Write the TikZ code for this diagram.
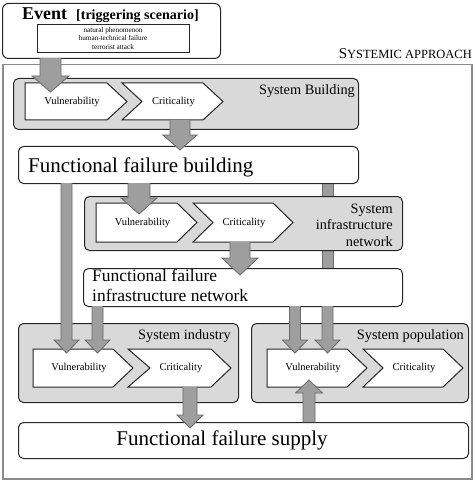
\documentclass[tikz,border=0pt]{standalone}
\usepackage{fontspec}
\setmainfont{Liberation Serif}
\usetikzlibrary{calc}
\definecolor{boxgray}{RGB}{217,217,217}
\definecolor{arrgray}{RGB}{158,158,158}
\definecolor{arredge}{RGB}{105,105,105}
\definecolor{framegray}{RGB}{140,140,140}
\tikzset{
  x=1pt, y=-1pt,
  boxw/.style={draw=black!85, line width=1pt, rounded corners=5pt, fill=white, inner sep=0pt},
  boxg/.style={draw=black!85, line width=1pt, rounded corners=5pt, fill=boxgray, inner sep=0pt},
  chevshape/.style={draw=black!85, line width=1pt, fill=white, line join=miter},
  chevtext/.style={inner sep=0pt, font=\fontsize{10.5}{12}\selectfont},
  syslbl/.style={inner sep=0pt, font=\fontsize{14.3}{16.5}\selectfont, align=right},
  bigl/.style={inner sep=0pt, font=\fontsize{21}{24}\selectfont},
  midl/.style={inner sep=0pt, font=\fontsize{17.5}{20}\selectfont, align=left},
  arrfill/.style={fill=arrgray},
  arrline/.style={draw=arredge, line width=0.8pt, line join=miter},
}
% box node: style, x1, y1, x2, y2, name
\newcommand\boxat[6]{\node[#1, anchor=north west, minimum width={(#4-#2)*1pt}, minimum height={(#5-#3)*1pt}] (#6) at (#2,#3) {};}
% chevron: name, xleft, xtip, ytop, ybot, notch depth, text
\newcommand\chev[7]{%
  \draw[chevshape] (#2,#4) -- ({#3-20},#4) -- (#3,{(#4+#5)/2}) -- ({#3-20},#5) -- (#2,#5) -- ({#2+#6},{(#4+#5)/2}) -- cycle;
  \node[chevtext] (#1) at ({(#2+#3)/2+#6/4-4},{(#4+#5)/2}) {#7};}
% block arrow: tail coord, tip coord, half shaft, half head, head length
\newcommand\barrow[5]{%
  \fill[arrfill] let \p1=(#1), \p2=(#2), \n1={(\y2-\y1)/abs(\y2-\y1)} in
    ({\x1-#3pt},\y1) -- ({\x1-#3pt},{\y2-(\n1)*#5pt}) -- ({\x1-#4pt},{\y2-(\n1)*#5pt}) -- (\x1,\y2)
    -- ({\x1+#4pt},{\y2-(\n1)*#5pt}) -- ({\x1+#3pt},{\y2-(\n1)*#5pt}) -- ({\x1+#3pt},\y1) -- cycle;
  \draw[arrline] let \p1=(#1), \p2=(#2), \n1={(\y2-\y1)/abs(\y2-\y1)} in
    ({\x1-#3pt},\y1) -- ({\x1-#3pt},{\y2-(\n1)*#5pt}) -- ({\x1-#4pt},{\y2-(\n1)*#5pt}) -- (\x1,\y2)
    -- ({\x1+#4pt},{\y2-(\n1)*#5pt}) -- ({\x1+#3pt},{\y2-(\n1)*#5pt}) -- ({\x1+#3pt},\y1);}
% plain shaft (no head): from, to, half width
\newcommand\bshaft[3]{%
  \fill[arrfill] let \p1=(#1), \p2=(#2) in ({\x1-#3pt},\y1) rectangle ({\x1+#3pt},\y2);
  \draw[arrline] let \p1=(#1), \p2=(#2) in ({\x1-#3pt},\y1) -- ({\x1-#3pt},\y2) ({\x1+#3pt},\y1) -- ({\x1+#3pt},\y2);}
\begin{document}
\begin{tikzpicture}
\useasboundingbox (0,0) rectangle (474,481);
% outer frame
\draw[framegray, line width=1.6pt] (3,64.5) rectangle (472,479);
\node[inner sep=0pt, anchor=base east] (sysapp) at (472,59)
  {{\fontsize{15}{16}\selectfont S}{\fontsize{12.5}{14}\selectfont YSTEMIC APPROACH}};

% coordinates for connectors
\coordinate (e1t) at (50.5,58);   \coordinate (e1h) at (50.5,92);
\coordinate (a2t) at (180,120);   \coordinate (a2h) at (180,150);
\coordinate (a3t) at (139,183);   \coordinate (a3h) at (139,214);
\coordinate (a4t) at (240,242);   \coordinate (a4h) at (240,275);
\coordinate (a5t) at (66.5,183);  \coordinate (a5h) at (66.5,353);
\coordinate (a6t) at (97.5,306);  \coordinate (a6h) at (97.5,353);
\coordinate (a7t) at (295,306);   \coordinate (a7h) at (295,353);
\coordinate (a8t) at (327.5,183); \coordinate (a8m) at (327.5,306); \coordinate (a8h) at (327.5,353);
\coordinate (a9t) at (190,387);   \coordinate (a9h) at (190,428);
\coordinate (a10t) at (309,422);  \coordinate (a10h) at (309,380);

% long bar passing behind the infrastructure boxes
\bshaft{a8t}{a8m}{5.5}

% Event
\boxat{boxw, rounded corners=6pt}{2}{3}{220}{58}{event}
\node[inner sep=0pt, anchor=base west, font=\fontsize{18}{20}\selectfont\bfseries] (evtitle) at (22,20) {Event};
\node[inner sep=0pt, anchor=base west, font=\fontsize{14}{16}\selectfont\bfseries] (trig) at (76,19.5) {[triggering scenario]};
\node[draw=black!85, line width=0.6pt, anchor=north west, minimum width=152pt, minimum height=28pt, inner sep=0pt] (scen) at (37,24) {};
\node[inner sep=0pt, align=center, font=\fontsize{7.2}{8.4}\selectfont] (scentext) at (113,38.5) {natural phenomenon\\human-technical failure\\terrorist attack};

% System Building
\boxat{boxg}{13}{78}{358}{129}{sb}
\node[syslbl, anchor=base east] (sbl) at (355,94.5) {System Building};
\chev{sbv}{25}{127}{83}{120}{0}{Vulnerability}
\chev{sbc}{122}{223}{83}{120}{20}{Criticality}

% Functional failure building
\boxat{boxw}{18}{146}{358}{183}{ffb}
\node[bigl, anchor=base west] (ffbl) at (28,172) {Functional failure building};

% System infrastructure network
\boxat{boxg}{84}{196}{402}{250}{sin}
\node[syslbl, anchor=north east] (sinl) at (393,203.5) {System\\infrastructure\\network};
\chev{sinv}{96}{197}{203}{242}{0}{Vulnerability}
\chev{sinc}{193}{293}{203}{242}{20}{Criticality}

% Functional failure infrastructure network
\boxat{boxw}{83}{268}{402}{306}{ffin}
\node[midl, anchor=north west] (ffinl) at (92,268.5) {Functional failure\\infrastructure network};

% System industry
\boxat{boxg}{18}{323}{238}{402}{si}
\node[syslbl, anchor=base east] (sil) at (231,339) {System industry};
\chev{siv}{33}{133}{349}{387}{0}{Vulnerability}
\chev{sic}{128}{231}{349}{387}{22}{Criticality}

% System population
\boxat{boxg}{251}{323}{468}{402}{sp}
\node[syslbl, anchor=base east] (spl) at (464,339) {System population};
\chev{spv}{267}{367}{349}{387}{0}{Vulnerability}
\chev{spc}{363}{463}{349}{387}{20}{Criticality}

% Functional failure supply
\boxat{boxw}{18}{422}{468}{458}{ffs}
\node[bigl, anchor=base] (ffsl) at (222,445) {Functional failure supply};

% block arrows
\barrow{e1t}{e1h}{10.5}{18.5}{16}
\barrow{a2t}{a2h}{10}{17}{15}
\barrow{a3t}{a3h}{11}{18}{16}
\barrow{a4t}{a4h}{10}{18}{17}
\barrow{a5t}{a5h}{5.5}{12.5}{13}
\barrow{a6t}{a6h}{5.5}{12.5}{13}
\barrow{a7t}{a7h}{5.5}{12.5}{13}
\barrow{a8m}{a8h}{5.5}{12.5}{13}
\barrow{a9t}{a9h}{7}{13}{13}
\barrow{a10t}{a10h}{6}{13.5}{13}
\end{tikzpicture}
\end{document}
